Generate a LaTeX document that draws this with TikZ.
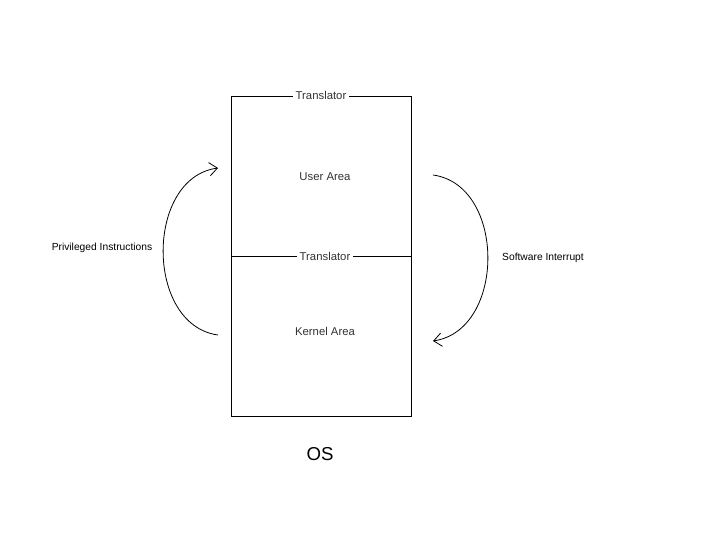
\documentclass[tikz,border=0pt]{standalone}
\usepackage{fontspec}
\setmainfont{Liberation Sans}
\usetikzlibrary{arrows.meta}
\begin{document}
\begin{tikzpicture}[x=0.75pt,y=-0.75pt,
  lbl/.style={font=\fontsize{8.5}{10}\selectfont,text=black!80},
  small/.style={font=\fontsize{7.7}{9}\selectfont,text=black},
  tr/.style={lbl,fill=white,inner sep=2pt},
  arc/.style={line width=0.6pt,-{Straight Barb[length=6pt,width=10pt]}}]
\useasboundingbox (0,0) rectangle (713,536);
\draw[line width=0.6pt] (231,96) rectangle (411,416);
\draw[line width=0.6pt] (231,256) -- (411,256);
\node[tr] (t1) at (321,95) {Translator};
\node[tr] (t2) at (325,256) {Translator};
\node[lbl] (ua) at (325,177) {User Area};
\node[lbl] (ka) at (325,331) {Kernel Area};
\node[font=\fontsize{14}{16}\selectfont] (os) at (320,454) {OS};
\node[small] (pi) at (102,248) {Privileged Instructions};
\node[small] (si) at (543,258) {Software Interrupt};
\coordinate (l1) at (218,335);
\coordinate (l2) at (218,168);
\coordinate (r1) at (433,175);
\coordinate (r2) at (433,341);
\draw[arc] (l1) .. controls (145,325) and (145,178) .. (l2);
\draw[arc] (r1) .. controls (506,185) and (506,330) .. (r2);
\end{tikzpicture}
\end{document}
